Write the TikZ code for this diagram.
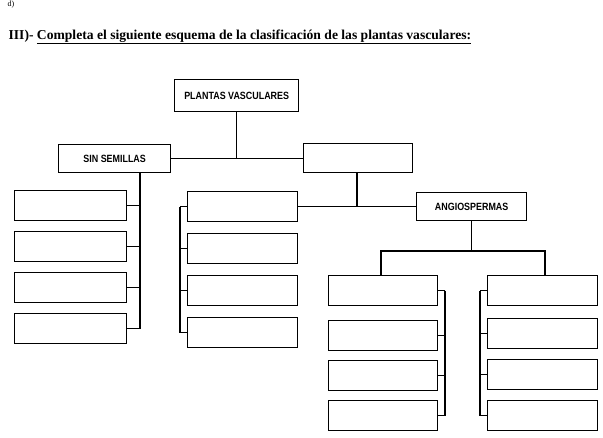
\documentclass[tikz,border=0pt]{standalone}
\usepackage{fontspec}
\setmainfont{Liberation Serif}
\newfontfamily\boxfont[FakeStretch=0.85]{Liberation Sans}
\begin{document}
\begin{tikzpicture}[x=1pt,y=-1pt,line width=1.3pt,
  bx/.style={draw,rectangle,anchor=north west,inner sep=0pt},
  lbl/.style={font=\boxfont\bfseries\fontsize{10.5}{12}\selectfont}]
\useasboundingbox (0,0) rectangle (603,437);
\fill[white] (0,0) rectangle (603,437);
\node[anchor=west,inner sep=1pt,font=\fontsize{8}{9}\selectfont] (d) at (6,5) {d)};
\node[anchor=west,inner sep=1pt,font=\bfseries\fontsize{13.6}{15}\selectfont] (t) at (7,37) {III)- \underline{Completa el siguiente esquema de la clasificación de las plantas vasculares:}};
\node[bx,lbl,minimum width=124,minimum height=32] (pv) at (174,79) {PLANTAS VASCULARES};
\node[bx,lbl,minimum width=112,minimum height=28] (ss) at (58,144) {SIN SEMILLAS};
\node[bx,minimum width=109,minimum height=29] (cs) at (303,143) {};
\node[bx,lbl,minimum width=110,minimum height=28] (an) at (416,192) {ANGIOSPERMAS};
\foreach \i/\y in {1/190,2/231,3/272,4/313}
  \node[bx,minimum width=112,minimum height=30] (l\i) at (14,\y) {};
\foreach \i/\y in {1/191,2/233,3/275,4/317}
  \node[bx,minimum width=110,minimum height=30] (m\i) at (187,\y) {};
\foreach \i/\y in {1/275,2/320,3/360,4/400}
  \node[bx,minimum width=109,minimum height=30] (a\i) at (328,\y) {};
\foreach \i/\y in {1/275,2/318,3/359,4/400}
  \node[bx,minimum width=110,minimum height=30] (b\i) at (487,\y) {};
% connectors
\draw (pv.south) -- (pv.south |- ss.east);
\draw (ss.east) -- (cs.west |- ss.east);
\coordinate (lv) at (140,0);
\draw (ss.south -| lv) -- (lv |- l4.east);
\foreach \i in {1,...,4} \draw (l\i.east) -- (lv |- l\i.east);
\coordinate (mv) at (180,0);
\draw (mv |- m1.west) -- (mv |- m4.west);
\foreach \i in {1,...,4} \draw (m\i.west) -- (mv |- m\i.west);
\coordinate (cv) at (357,0);
\draw (cv |- cs.south) -- (cv |- m1.east);
\draw (m1.east) -- (an.west |- m1.east);
\coordinate (hb) at (0,251);
\draw (an.south) -- (an.south |- hb);
\draw (a1.north -| 381,0) -- (381,251) -- (545,251) -- (b1.north -| 545,0);
\coordinate (av) at (445,0);
\draw (av |- a1.east) -- (av |- a4.east);
\foreach \i in {1,...,4} \draw (a\i.east) -- (av |- a\i.east);
\coordinate (bv) at (480,0);
\draw (bv |- b1.west) -- (bv |- b4.west);
\foreach \i in {1,...,4} \draw (b\i.west) -- (bv |- b\i.west);
\end{tikzpicture}
\end{document}
